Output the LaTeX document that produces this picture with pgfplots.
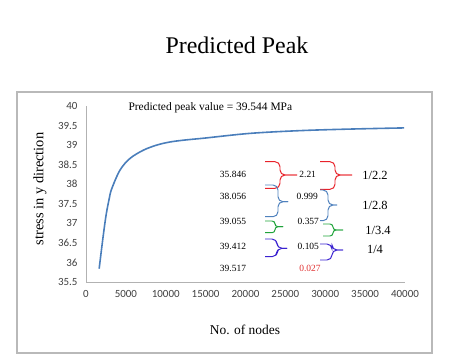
\documentclass[border=0pt]{standalone}
\usepackage{pgfplots}
\pgfplotsset{compat=1.18}
\usepackage{fontspec}
\setmainfont{Liberation Serif}
\newfontfamily\carlito{Carlito}
\definecolor{curveblue}{HTML}{4A7EBB}
\definecolor{bred}{HTML}{E8222A}
\definecolor{bsteel}{HTML}{4F81BD}
\definecolor{bgreen}{HTML}{1FA33A}
\definecolor{bviolet}{HTML}{3A22D0}
\definecolor{numred}{HTML}{E03030}
\begin{document}
\begin{tikzpicture}
\useasboundingbox (0bp,0bp) rectangle (474bp,355bp);
\begin{axis}[
  at={(86bp,73bp)}, anchor=south west,
  scale only axis, width=319bp, height=176bp,
  xmin=0, xmax=40000, ymin=35.5, ymax=40,
  xtick={0,5000,...,40000},
  ytick={35.5,36,...,40},
  axis x line*=bottom, axis y line*=left,
  axis line style={gray!60, line width=0.8pt, -},
  major tick length=0pt,
  scaled x ticks=false,
  /pgf/number format/assume math mode=true,
  xticklabel style={/pgf/number format/1000 sep={}, font=\fontsize{11}{13}\selectfont\carlito, text=black!75},
  yticklabel style={/pgf/number format/.cd, fixed, precision=1, /tikz/.cd, font=\fontsize{11}{13}\selectfont\carlito, text=black!75},
  xticklabel shift=5bp,
  yticklabel shift=5bp,
  clip=false,
]
\addplot[curveblue, line width=1.6pt, smooth, tension=0.55] coordinates {
  (1650,35.84) (2090,36.57) (2510,37.20) (2900,37.62) (3220,37.88)
  (4260,38.36) (5520,38.66) (7190,38.87) (8860,39.00) (10530,39.08)
  (12400,39.13) (14900,39.18) (20560,39.30) (26800,39.37) (33100,39.41) (39900,39.44)
};
\end{axis}
\draw[gray!55, line width=1.2pt] (17bp,2bp) rectangle (432bp,263bp);
\node at (237bp,310bp) {\fontsize{24}{28}\selectfont Predicted Peak};
\node at (245bp,25bp) {\fontsize{13.5}{16}\selectfont No. of nodes};
\node[rotate=90] at (40bp,166bp) {\fontsize{14.5}{17}\selectfont stress in y direction};
\node[anchor=west] at (125bp,247bp) {\fontsize{11.5}{13}\selectfont Predicted peak value = 39.544 MPa};
\begin{scope}[x=1bp,y=1bp, font=\fontsize{9.5}{11}\selectfont]
\node at (233,181) {35.846};
\node at (233,158.3) {38.056};
\node at (233,134) {39.055};
\node at (233,108.3) {39.412};
\node at (233,86.7) {39.517};
\node at (307.7,181) {2.21};
\node at (307.3,158.3) {0.999};
\node at (308.3,134) {0.357};
\node at (308.3,108.3) {0.105};
\node[text=numred] at (310,86.7) {0.027};
\end{scope}
\begin{scope}[x=1bp,y=1bp, font=\fontsize{12.5}{14}\selectfont]
\node at (375,180) {1/2.2};
\node at (375,150) {1/2.8};
\node at (378,125) {1/3.4};
\node at (375,106) {1/4};
\end{scope}
\begin{scope}[x=1bp,y=1bp, line width=1pt, rounded corners=5]
% red
\draw[bred] (265,193.3) -| (280,180) -- (297,180);
\draw[bred] (265,166.7) -| (280,180) -- (297,180);
\draw[bred] (320,193.3) -| (335,180) -- (352,180);
\draw[bred] (320,165.7) -| (335,180) -- (352,180);
% steel
\draw[bsteel] (265,170) -| (278,153.3) -- (288,153.3);
\draw[bsteel] (265,138.3) -| (278,153.3) -- (288,153.3);
\draw[bsteel] (320,165) -| (328,150) -- (337,150);
\draw[bsteel] (320,134.3) -| (328,150) -- (337,150);
% green
\draw[bgreen, rounded corners=3] (265,134) -| (275,128.3) -- (283,128.3);
\draw[bgreen, rounded corners=3] (265,122.3) -| (275,128.3) -- (283,128.3);
\draw[bgreen, rounded corners=3] (323,131) -| (333,125) -- (343,125);
\draw[bgreen, rounded corners=3] (323,119) -| (333,125) -- (343,125);
% violet
\draw[bviolet] (265,116) -| (277,106.7) -- (287,106.7);
\draw[bviolet] (265,98.3) -| (277,106.7) -- (287,106.7);
\draw[bviolet] (320,111) -| (332,105) -- (343,105);
\draw[bviolet] (320,95) -| (332,105) -- (343,105);
\end{scope}
\end{tikzpicture}
\end{document}
